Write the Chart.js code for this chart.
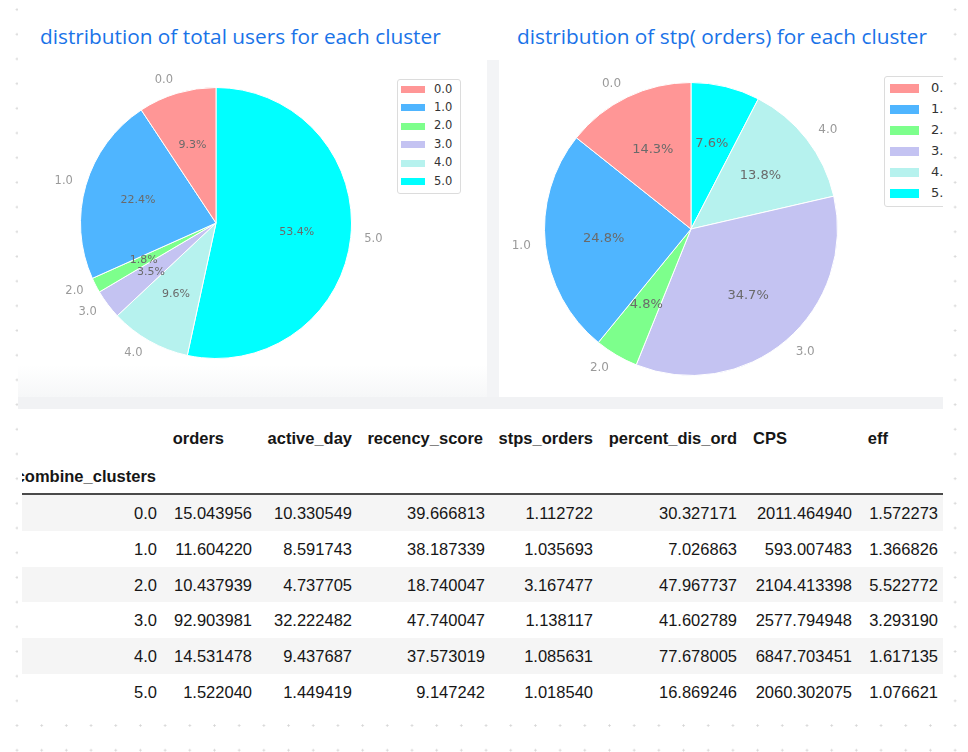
<!DOCTYPE html>
<html>
<head>
<meta charset="utf-8">
<script src="https://cdn.jsdelivr.net/npm/chart.js@4.4.0/dist/chart.umd.min.js"></script>
<style>
  body {
    margin: 0;
    width: 968px;
    height: 752px;
    position: relative;
    overflow: hidden;
    background-color: #fff;
    background-image: radial-gradient(circle, #d6d6d6 0.9px, transparent 1.3px);
    background-size: 24.7px 24.7px;
    background-position: 4.65px -2.75px;
    font-family: "Liberation Sans", Arial, sans-serif;
  }
  .sheet { position: absolute; left: 18px; top: 0; width: 925px; height: 710px; background: #fff; }
  .title { position: absolute; top: 23px; font-family: "Open Sans", sans-serif; font-size: 20.8px; line-height: 26px; color: #1a73e8; white-space: nowrap; }
  .gapv { position: absolute; left: 487px; top: 60px; width: 12px; height: 337px; background: #f3f4f6; }
  .gaph { position: absolute; left: 18px; top: 397px; width: 925px; height: 12px; background: #f1f2f4; }
  .fade { position: absolute; left: 18px; top: 365px; width: 469px; height: 32px; background: linear-gradient(#fff, #f6f7f8); }
  .panel { position: absolute; overflow: hidden; }
  .legend { position: absolute; background: #fff; border: 1px solid #dcdcdc; border-radius: 3px; box-sizing: border-box; }
  .legend .item { position: absolute; font-family: "DejaVu Sans", sans-serif; color: #333; white-space: nowrap; }
  .legend .sw { position: absolute; }
  .tbl { position: absolute; left: 22px; top: 410px; width: 921px; height: 300px; overflow: hidden; font-size: 16.5px; color: #161616; }
  .cell { position: absolute; white-space: nowrap; line-height: 20px; }
  .band { position: absolute; left: 0; width: 921px; background: #f5f5f5; }
  .rule { position: absolute; left: 0; top: 83px; width: 921px; height: 2px; background: #4a4a4a; }
</style>
</head>
<body>
<div class="sheet"></div>
<div class="fade"></div>
<div class="gapv"></div>
<div class="gaph"></div>
<div class="title" style="left:40px">distribution of total users for each cluster</div>
<div class="title" style="left:517px">distribution of stp( orders) for each cluster</div>

<div class="panel" style="left:18px;top:60px;width:469px;height:337px">
  <canvas id="usersPie" width="469" height="337"></canvas>
  <div class="legend" id="usersLegend" style="left:379px;top:19px;width:64px;height:115px"></div>
</div>
<div class="panel" style="left:499px;top:76px;width:444px;height:321px">
  <canvas id="ordersPie" width="444" height="321"></canvas>
  <div class="legend" id="ordersLegend" style="left:385px;top:0px;width:70px;height:131px"></div>
</div>

<div class="tbl" id="tbl"></div>

<script>
// cluster shares (percent)
const clusterLabels = ['0.0', '1.0', '2.0', '3.0', '4.0', '5.0'];
const userShare = [9.3, 22.4, 1.8, 3.5, 9.6, 53.4];
const orderShare = [14.3, 24.8, 4.8, 34.7, 13.8, 7.6];
const sliceColors = ['#ff9696', '#4fb5ff', '#7dff8c', '#c4c3f2', '#b6f2ee', '#00ffff'];

// summary table
const tableColumns = ['orders', 'active_day', 'recency_score', 'stps_orders', 'percent_dis_ord', 'CPS', 'eff'];
const tableIndexName = 'combine_clusters';
const tableIndex = ['0.0', '1.0', '2.0', '3.0', '4.0', '5.0'];
const tableRows = [
  ['15.043956', '10.330549', '39.666813', '1.112722', '30.327171', '2011.464940', '1.572273'],
  ['11.604220', '8.591743', '38.187339', '1.035693', '7.026863', '593.007483', '1.366826'],
  ['10.437939', '4.737705', '18.740047', '3.167477', '47.967737', '2104.413398', '5.522772'],
  ['92.903981', '32.222482', '47.740047', '1.138117', '41.602789', '2577.794948', '3.293190'],
  ['14.531478', '9.437687', '37.573019', '1.085631', '77.678005', '6847.703451', '1.617135'],
  ['1.522040', '1.449419', '9.147242', '1.018540', '16.869246', '2060.302075', '1.076621']
];

// matplotlib style labels: name outside at 1.1r, percent inside at 0.6r
const pieText = {
  id: 'pieText',
  afterDatasetsDraw(chart, args, opts) {
    const ctx = chart.ctx;
    const meta = chart.getDatasetMeta(0);
    const labels = chart.data.labels;
    const values = chart.data.datasets[0].data;
    const total = values.reduce((a, b) => a + b, 0);
    ctx.save();
    ctx.textBaseline = 'middle';
    meta.data.forEach((arc, i) => {
      const p = arc.getProps(['x', 'y', 'startAngle', 'endAngle', 'outerRadius'], true);
      const mid = (p.startAngle + p.endAngle) / 2;
      const c = Math.cos(mid), s = Math.sin(mid);
      ctx.font = opts.pctFont;
      ctx.fillStyle = opts.pctColor;
      ctx.textAlign = 'center';
      ctx.fillText((values[i] / total * 100).toFixed(1) + '%', p.x + c * p.outerRadius * 0.6, p.y + s * p.outerRadius * 0.6);
      ctx.font = opts.labelFont;
      ctx.fillStyle = opts.labelColor;
      ctx.textAlign = c >= 0 ? 'left' : 'right';
      ctx.fillText(labels[i], p.x + c * p.outerRadius * 1.1, p.y + s * p.outerRadius * 1.1);
    });
    ctx.restore();
  }
};

// Chart.js draws clockwise, matplotlib counterclockwise: feed reversed order
function makePie(id, values, padding, fonts) {
  const rev = a => a.slice().reverse();
  return new Chart(document.getElementById(id), {
    type: 'pie',
    data: {
      labels: rev(clusterLabels),
      datasets: [{
        data: rev(values),
        backgroundColor: rev(sliceColors),
        borderColor: '#ffffff',
        borderWidth: 1
      }]
    },
    options: {
      responsive: false,
      animation: false,
      layout: { padding: padding },
      plugins: {
        legend: { display: false },
        tooltip: { enabled: false },
        pieText: fonts
      }
    },
    plugins: [pieText]
  });
}

makePie('usersPie', userShare, { left: 62, right: 135, top: 27, bottom: 38 }, {
  pctFont: '11px "DejaVu Sans"', pctColor: '#6a6a6a',
  labelFont: '11.5px "DejaVu Sans"', labelColor: '#9a9a9a'
});
makePie('ordersPie', orderShare, { left: 45, right: 105, top: 6, bottom: 21 }, {
  pctFont: '13px "DejaVu Sans"', pctColor: '#6a6a6a',
  labelFont: '12px "DejaVu Sans"', labelColor: '#9a9a9a'
});

function buildLegend(id, sw, textLeft, rowTop, step, fontSize) {
  const box = document.getElementById(id);
  clusterLabels.forEach((lab, i) => {
    const cy = rowTop + i * step;
    const s = document.createElement('div');
    s.className = 'sw';
    s.style.cssText = `left:${sw.left}px;top:${cy - sw.h / 2}px;width:${sw.w}px;height:${sw.h}px;background:${sliceColors[i]}`;
    box.appendChild(s);
    const t = document.createElement('div');
    t.className = 'item';
    t.textContent = lab;
    t.style.cssText = `left:${textLeft}px;top:${cy - fontSize * 0.6}px;font-size:${fontSize}px;line-height:${fontSize * 1.2}px`;
    box.appendChild(t);
  });
}
buildLegend('usersLegend', { left: 3, w: 24, h: 7 }, 36, 9.5, 18.4, 11.5);
buildLegend('ordersLegend', { left: 5, w: 29, h: 9 }, 46, 11, 21, 13);

// table (pandas html look)
const tbl = document.getElementById('tbl');
const idxRight = 157 - 22;
const valRight = [252, 352, 485, 593, 737, 852, 938].map(v => v - 22);
const headRight = [224, 352, 483, 593, 737, 787, 888].map(v => v - 22);
const rowTop = 85, rowH = 35.8;

function cell(text, right, cy, bold) {
  const d = document.createElement('div');
  d.className = 'cell';
  d.textContent = text;
  d.style.right = (921 - right) + 'px';
  d.style.top = (cy - 10) + 'px';
  if (bold) d.style.fontWeight = 'bold';
  tbl.appendChild(d);
}
tableIndex.forEach((_, r) => {
  if (r % 2 === 0) {
    const b = document.createElement('div');
    b.className = 'band';
    b.style.top = (rowTop + r * rowH) + 'px';
    b.style.height = rowH + 'px';
    tbl.appendChild(b);
  }
});
const rule = document.createElement('div');
rule.className = 'rule';
tbl.appendChild(rule);
tableColumns.forEach((c, i) => cell(c, headRight[i], 28, true));
cell(tableIndexName, 156 - 22, 66, true);
tableIndex.forEach((idx, r) => {
  const cy = rowTop + r * rowH + rowH / 2;
  cell(idx, idxRight, cy, false);
  tableRows[r].forEach((v, i) => cell(v, valRight[i], cy, false));
});
</script>
</body>
</html>
